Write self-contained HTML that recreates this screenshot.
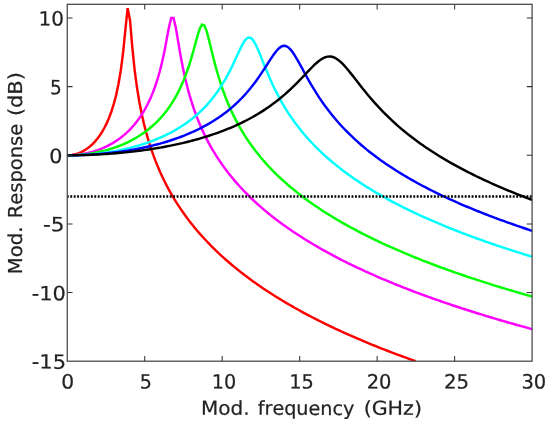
<!DOCTYPE html>
<html><head><meta charset="utf-8"><title>Mod. Response</title>
<style>
html,body{margin:0;padding:0;background:#fff;}
svg{display:block}
text{text-rendering:geometricPrecision;font-kerning:none;font-family:"DejaVu Sans","Liberation Sans",sans-serif;font-size:19.2px;fill:#222222;stroke:#222222;stroke-width:0.22px;}
.t{font-size:19.6px}
</style></head><body>
<svg width="550" height="424" viewBox="0 0 550 424">
<rect width="550" height="424" fill="#fff"/>

<clipPath id="c"><rect x="67.25" y="4.3" width="464.85" height="356.90"/></clipPath>
<g clip-path="url(#c)" fill="none" stroke-width="2.45" stroke-linejoin="miter" stroke-miterlimit="3" stroke-linecap="butt">
<polyline stroke="#ff0000" points="67.25,155.28 69.57,155.19 71.90,154.93 74.22,154.50 76.55,153.88 78.87,153.08 81.20,152.09 83.52,150.90 85.84,149.49 88.17,147.85 90.49,145.97 92.82,143.82 95.14,141.37 97.47,138.59 99.79,135.43 102.11,131.85 104.44,127.77 106.76,123.11 109.09,117.73 111.41,111.49 113.73,104.14 116.06,95.34 118.38,84.58 120.71,71.01 123.03,53.28 125.36,29.90 127.68,8.12 130.00,20.20 132.33,47.62 134.65,70.04 136.98,87.54 139.30,101.72 141.63,113.61 143.95,123.85 146.27,132.88 148.60,140.94 150.92,148.25 153.25,154.94 155.57,161.12 157.90,166.86 160.22,172.23 162.54,177.28 164.87,182.04 167.19,186.56 169.52,190.85 171.84,194.94 174.17,198.86 176.49,202.61 178.81,206.21 181.14,209.68 183.46,213.02 185.79,216.25 188.11,219.37 190.44,222.40 192.76,225.33 195.08,228.17 197.41,230.93 199.73,233.62 202.06,236.24 204.38,238.79 206.71,241.27 209.03,243.70 211.35,246.06 213.68,248.38 216.00,250.64 218.33,252.85 220.65,255.02 222.97,257.14 225.30,259.22 227.62,261.26 229.95,263.26 232.27,265.22 234.60,267.15 236.92,269.04 239.24,270.90 241.57,272.72 243.89,274.52 246.22,276.29 248.54,278.02 250.87,279.73 253.19,281.41 255.51,283.07 257.84,284.70 260.16,286.31 262.49,287.89 264.81,289.46 267.14,290.99 269.46,292.51 271.78,294.01 274.11,295.49 276.43,296.94 278.76,298.38 281.08,299.80 283.41,301.20 285.73,302.59 288.05,303.95 290.38,305.30 292.70,306.64 295.03,307.95 297.35,309.26 299.68,310.54 302.00,311.82 304.32,313.08 306.65,314.32 308.97,315.55 311.30,316.77 313.62,317.97 315.94,319.17 318.27,320.34 320.59,321.51 322.92,322.67 325.24,323.81 327.57,324.94 329.89,326.06 332.21,327.17 334.54,328.27 336.86,329.36 339.19,330.44 341.51,331.51 343.84,332.56 346.16,333.61 348.48,334.65 350.81,335.68 353.13,336.70 355.46,337.71 357.78,338.71 360.11,339.71 362.43,340.69 364.75,341.67 367.08,342.64 369.40,343.60 371.73,344.55 374.05,345.49 376.38,346.43 378.70,347.36 381.02,348.28 383.35,349.19 385.67,350.10 388.00,351.00 390.32,351.89 392.65,352.78 394.97,353.66 397.29,354.53 399.62,355.40 401.94,356.26 404.27,357.11 406.59,357.96 408.91,358.80 411.24,359.63 413.56,360.46 415.65,361.20"/>
<polyline stroke="#ff00ff" points="67.25,155.28 68.95,155.26 71.28,155.19 73.60,155.06 75.93,154.88 78.25,154.63 80.58,154.32 82.90,153.96 85.22,153.53 87.55,153.04 89.87,152.48 92.20,151.86 94.52,151.17 96.85,150.41 99.17,149.57 101.49,148.66 103.82,147.68 106.14,146.60 108.47,145.44 110.79,144.19 113.12,142.84 115.44,141.39 117.76,139.83 120.09,138.15 122.41,136.34 124.74,134.39 127.06,132.30 129.38,130.05 131.71,127.61 134.03,124.98 136.36,122.14 138.68,119.05 141.01,115.69 143.33,112.01 145.65,107.99 147.98,103.55 150.30,98.63 152.63,93.14 154.95,86.98 157.28,79.99 159.60,72.00 161.92,62.79 164.25,52.15 166.57,40.07 168.90,27.46 171.22,18.00 173.55,18.03 175.87,28.08 178.19,41.91 180.52,55.44 182.84,67.56 185.17,78.24 187.49,87.67 189.82,96.08 192.14,103.65 194.46,110.54 196.79,116.84 199.11,122.67 201.44,128.07 203.76,133.13 206.09,137.87 208.41,142.34 210.73,146.57 213.06,150.58 215.38,154.40 217.71,158.05 220.03,161.54 222.35,164.89 224.68,168.11 227.00,171.21 229.33,174.20 231.65,177.09 233.98,179.88 236.30,182.59 238.62,185.21 240.95,187.76 243.27,190.23 245.60,192.64 247.92,194.98 250.25,197.27 252.57,199.50 254.89,201.67 257.22,203.79 259.54,205.87 261.87,207.90 264.19,209.89 266.52,211.83 268.84,213.74 271.16,215.60 273.49,217.43 275.81,219.23 278.14,220.99 280.46,222.72 282.79,224.42 285.11,226.10 287.43,227.74 289.76,229.35 292.08,230.94 294.41,232.51 296.73,234.05 299.06,235.56 301.38,237.06 303.70,238.53 306.03,239.98 308.35,241.40 310.68,242.81 313.00,244.20 315.32,245.57 317.65,246.93 319.97,248.26 322.30,249.58 324.62,250.88 326.95,252.16 329.27,253.43 331.59,254.68 333.92,255.92 336.24,257.14 338.57,258.35 340.89,259.54 343.22,260.73 345.54,261.89 347.86,263.05 350.19,264.19 352.51,265.32 354.84,266.44 357.16,267.55 359.49,268.64 361.81,269.72 364.13,270.80 366.46,271.86 368.78,272.91 371.11,273.95 373.43,274.98 375.76,276.00 378.08,277.01 380.40,278.02 382.73,279.01 385.05,279.99 387.38,280.97 389.70,281.93 392.03,282.89 394.35,283.84 396.67,284.78 399.00,285.71 401.32,286.64 403.65,287.55 405.97,288.46 408.29,289.36 410.62,290.26 412.94,291.15 415.27,292.03 417.59,292.90 419.92,293.76 422.24,294.62 424.56,295.48 426.89,296.32 429.21,297.16 431.54,297.99 433.86,298.82 436.19,299.64 438.51,300.45 440.83,301.26 443.16,302.07 445.48,302.86 447.81,303.65 450.13,304.44 452.46,305.22 454.78,305.99 457.10,306.76 459.43,307.53 461.75,308.29 464.08,309.04 466.40,309.79 468.73,310.53 471.05,311.27 473.37,312.00 475.70,312.73 478.02,313.46 480.35,314.18 482.67,314.89 485.00,315.60 487.32,316.31 489.64,317.01 491.97,317.71 494.29,318.40 496.62,319.09 498.94,319.77 501.26,320.45 503.59,321.13 505.91,321.80 508.24,322.47 510.56,323.14 512.89,323.80 515.21,324.45 517.53,325.11 519.86,325.75 522.18,326.40 524.51,327.04 526.83,327.68 529.16,328.31 532.10,329.11"/>
<polyline stroke="#00ff00" points="67.25,155.28 69.57,155.26 71.90,155.21 74.22,155.12 76.55,155.00 78.87,154.85 81.20,154.65 83.52,154.43 85.84,154.16 88.17,153.86 90.49,153.52 92.82,153.15 95.14,152.74 97.47,152.28 99.79,151.79 102.11,151.26 104.44,150.68 106.76,150.06 109.09,149.40 111.41,148.69 113.73,147.93 116.06,147.12 118.38,146.26 120.71,145.35 123.03,144.39 125.36,143.36 127.68,142.28 130.00,141.13 132.33,139.92 134.65,138.63 136.98,137.28 139.30,135.84 141.63,134.32 143.95,132.71 146.27,131.00 148.60,129.20 150.92,127.28 153.25,125.25 155.57,123.09 157.90,120.79 160.22,118.33 162.54,115.72 164.87,112.91 167.19,109.91 169.52,106.68 171.84,103.20 174.17,99.43 176.49,95.34 178.81,90.89 181.14,86.02 183.46,80.67 185.79,74.78 188.11,68.27 190.44,61.08 192.76,53.19 195.08,44.74 197.41,36.20 199.73,28.79 202.06,24.59 204.38,25.52 206.71,31.38 209.03,40.09 211.35,49.69 213.68,59.10 216.00,67.90 218.33,76.01 220.65,83.45 222.97,90.28 225.30,96.58 227.62,102.41 229.95,107.83 232.27,112.89 234.60,117.65 236.92,122.12 239.24,126.36 241.57,130.37 243.89,134.18 246.22,137.82 248.54,141.30 250.87,144.62 253.19,147.82 255.51,150.89 257.84,153.85 260.16,156.71 262.49,159.47 264.81,162.13 267.14,164.72 269.46,167.23 271.78,169.66 274.11,172.02 276.43,174.32 278.76,176.56 281.08,178.75 283.41,180.88 285.73,182.95 288.05,184.98 290.38,186.97 292.70,188.91 295.03,190.80 297.35,192.66 299.68,194.48 302.00,196.26 304.32,198.01 306.65,199.73 308.97,201.41 311.30,203.07 313.62,204.69 315.94,206.29 318.27,207.85 320.59,209.40 322.92,210.91 325.24,212.41 327.57,213.88 329.89,215.33 332.21,216.75 334.54,218.15 336.86,219.54 339.19,220.90 341.51,222.25 343.84,223.57 346.16,224.88 348.48,226.17 350.81,227.45 353.13,228.70 355.46,229.95 357.78,231.17 360.11,232.38 362.43,233.58 364.75,234.76 367.08,235.93 369.40,237.08 371.73,238.22 374.05,239.35 376.38,240.47 378.70,241.57 381.02,242.66 383.35,243.74 385.67,244.81 388.00,245.87 390.32,246.91 392.65,247.95 394.97,248.97 397.29,249.99 399.62,250.99 401.94,251.99 404.27,252.97 406.59,253.95 408.91,254.92 411.24,255.87 413.56,256.82 415.89,257.76 418.21,258.69 420.54,259.62 422.86,260.53 425.18,261.44 427.51,262.34 429.83,263.23 432.16,264.12 434.48,265.00 436.81,265.87 439.13,266.73 441.45,267.58 443.78,268.43 446.10,269.27 448.43,270.11 450.75,270.94 453.08,271.76 455.40,272.58 457.72,273.39 460.05,274.19 462.37,274.99 464.70,275.78 467.02,276.57 469.35,277.35 471.67,278.12 473.99,278.89 476.32,279.66 478.64,280.41 480.97,281.17 483.29,281.91 485.62,282.66 487.94,283.39 490.26,284.13 492.59,284.85 494.91,285.58 497.24,286.30 499.56,287.01 501.88,287.72 504.21,288.42 506.53,289.12 508.86,289.82 511.18,290.51 513.51,291.19 515.83,291.87 518.15,292.55 520.48,293.23 522.80,293.90 525.13,294.56 527.45,295.22 529.78,295.88 532.10,296.53"/>
<polyline stroke="#00ffff" points="67.25,155.28 69.57,155.27 71.90,155.24 74.22,155.19 76.55,155.13 78.87,155.04 81.20,154.94 83.52,154.81 85.84,154.67 88.17,154.50 90.49,154.32 92.82,154.11 95.14,153.89 97.47,153.64 99.79,153.38 102.11,153.09 104.44,152.79 106.76,152.46 109.09,152.11 111.41,151.73 113.73,151.34 116.06,150.92 118.38,150.47 120.71,150.01 123.03,149.52 125.36,149.00 127.68,148.46 130.00,147.89 132.33,147.29 134.65,146.67 136.98,146.02 139.30,145.34 141.63,144.63 143.95,143.88 146.27,143.11 148.60,142.30 150.92,141.45 153.25,140.57 155.57,139.66 157.90,138.70 160.22,137.70 162.54,136.66 164.87,135.58 167.19,134.45 169.52,133.28 171.84,132.05 174.17,130.77 176.49,129.43 178.81,128.04 181.14,126.58 183.46,125.05 185.79,123.46 188.11,121.79 190.44,120.05 192.76,118.22 195.08,116.30 197.41,114.29 199.73,112.17 202.06,109.95 204.38,107.60 206.71,105.13 209.03,102.52 211.35,99.75 213.68,96.83 216.00,93.73 218.33,90.44 220.65,86.95 222.97,83.23 225.30,79.28 227.62,75.08 229.95,70.63 232.27,65.94 234.60,61.04 236.92,56.00 239.24,50.97 241.57,46.18 243.89,42.02 246.22,38.95 248.54,37.49 250.87,37.96 253.19,40.33 255.51,44.27 257.84,49.27 260.16,54.84 262.49,60.64 264.81,66.44 267.14,72.08 269.46,77.52 271.78,82.71 274.11,87.65 276.43,92.34 278.76,96.80 281.08,101.04 283.41,105.08 285.73,108.93 288.05,112.60 290.38,116.12 292.70,119.49 295.03,122.72 297.35,125.82 299.68,128.81 302.00,131.69 304.32,134.48 306.65,137.16 308.97,139.76 311.30,142.28 313.62,144.72 315.94,147.09 318.27,149.40 320.59,151.64 322.92,153.82 325.24,155.94 327.57,158.01 329.89,160.03 332.21,162.00 334.54,163.93 336.86,165.81 339.19,167.65 341.51,169.45 343.84,171.22 346.16,172.95 348.48,174.64 350.81,176.30 353.13,177.93 355.46,179.53 357.78,181.10 360.11,182.64 362.43,184.16 364.75,185.65 367.08,187.12 369.40,188.56 371.73,189.97 374.05,191.37 376.38,192.75 378.70,194.10 381.02,195.43 383.35,196.75 385.67,198.04 388.00,199.32 390.32,200.58 392.65,201.82 394.97,203.05 397.29,204.26 399.62,205.45 401.94,206.63 404.27,207.79 406.59,208.94 408.91,210.08 411.24,211.20 413.56,212.31 415.89,213.40 418.21,214.49 420.54,215.56 422.86,216.62 425.18,217.66 427.51,218.70 429.83,219.72 432.16,220.74 434.48,221.74 436.81,222.73 439.13,223.72 441.45,224.69 443.78,225.65 446.10,226.61 448.43,227.55 450.75,228.49 453.08,229.41 455.40,230.33 457.72,231.24 460.05,232.14 462.37,233.03 464.70,233.92 467.02,234.80 469.35,235.67 471.67,236.53 473.99,237.38 476.32,238.23 478.64,239.07 480.97,239.90 483.29,240.73 485.62,241.55 487.94,242.36 490.26,243.17 492.59,243.97 494.91,244.76 497.24,245.55 499.56,246.33 501.88,247.10 504.21,247.87 506.53,248.64 508.86,249.39 511.18,250.15 513.51,250.89 515.83,251.64 518.15,252.37 520.48,253.10 522.80,253.83 525.13,254.55 527.45,255.26 529.78,255.98 532.10,256.68"/>
<polyline stroke="#0000ff" points="67.25,155.28 69.57,155.27 71.90,155.25 74.22,155.22 76.55,155.17 78.87,155.11 81.20,155.04 83.52,154.95 85.84,154.85 88.17,154.74 90.49,154.61 92.82,154.47 95.14,154.31 97.47,154.14 99.79,153.96 102.11,153.76 104.44,153.55 106.76,153.32 109.09,153.08 111.41,152.82 113.73,152.55 116.06,152.27 118.38,151.96 120.71,151.65 123.03,151.31 125.36,150.96 127.68,150.60 130.00,150.21 132.33,149.81 134.65,149.40 136.98,148.96 139.30,148.51 141.63,148.04 143.95,147.55 146.27,147.04 148.60,146.51 150.92,145.96 153.25,145.39 155.57,144.80 157.90,144.19 160.22,143.56 162.54,142.90 164.87,142.22 167.19,141.51 169.52,140.79 171.84,140.03 174.17,139.25 176.49,138.44 178.81,137.60 181.14,136.73 183.46,135.84 185.79,134.91 188.11,133.95 190.44,132.95 192.76,131.92 195.08,130.85 197.41,129.74 199.73,128.60 202.06,127.41 204.38,126.18 206.71,124.90 209.03,123.57 211.35,122.20 213.68,120.77 216.00,119.28 218.33,117.74 220.65,116.14 222.97,114.47 225.30,112.73 227.62,110.92 229.95,109.03 232.27,107.06 234.60,105.01 236.92,102.86 239.24,100.61 241.57,98.27 243.89,95.81 246.22,93.24 248.54,90.55 250.87,87.74 253.19,84.79 255.51,81.71 257.84,78.50 260.16,75.16 262.49,71.69 264.81,68.13 267.14,64.51 269.46,60.88 271.78,57.32 274.11,53.95 276.43,50.93 278.76,48.44 281.08,46.68 283.41,45.83 285.73,46.01 288.05,47.22 290.38,49.39 292.70,52.34 295.03,55.87 297.35,59.80 299.68,63.96 302.00,68.21 304.32,72.48 306.65,76.70 308.97,80.83 311.30,84.84 313.62,88.73 315.94,92.48 318.27,96.11 320.59,99.60 322.92,102.96 325.24,106.20 327.57,109.33 329.89,112.35 332.21,115.26 334.54,118.08 336.86,120.80 339.19,123.44 341.51,125.99 343.84,128.47 346.16,130.88 348.48,133.21 350.81,135.49 353.13,137.70 355.46,139.85 357.78,141.95 360.11,143.99 362.43,145.98 364.75,147.93 367.08,149.83 369.40,151.69 371.73,153.51 374.05,155.29 376.38,157.03 378.70,158.74 381.02,160.41 383.35,162.05 385.67,163.66 388.00,165.24 390.32,166.79 392.65,168.31 394.97,169.80 397.29,171.27 399.62,172.72 401.94,174.14 404.27,175.54 406.59,176.91 408.91,178.26 411.24,179.60 413.56,180.91 415.89,182.20 418.21,183.48 420.54,184.73 422.86,185.97 425.18,187.19 427.51,188.40 429.83,189.59 432.16,190.76 434.48,191.92 436.81,193.06 439.13,194.19 441.45,195.31 443.78,196.41 446.10,197.50 448.43,198.57 450.75,199.63 453.08,200.68 455.40,201.72 457.72,202.75 460.05,203.77 462.37,204.77 464.70,205.76 467.02,206.75 469.35,207.72 471.67,208.68 473.99,209.64 476.32,210.58 478.64,211.51 480.97,212.44 483.29,213.36 485.62,214.26 487.94,215.16 490.26,216.05 492.59,216.93 494.91,217.81 497.24,218.67 499.56,219.53 501.88,220.38 504.21,221.22 506.53,222.06 508.86,222.89 511.18,223.71 513.51,224.52 515.83,225.33 518.15,226.13 520.48,226.93 522.80,227.72 525.13,228.50 527.45,229.27 529.78,230.04 532.10,230.81"/>
<polyline stroke="#000000" points="67.25,155.28 69.57,155.28 71.90,155.26 74.22,155.24 76.55,155.21 78.87,155.17 81.20,155.12 83.52,155.06 85.84,154.99 88.17,154.91 90.49,154.83 92.82,154.73 95.14,154.63 97.47,154.51 99.79,154.39 102.11,154.26 104.44,154.11 106.76,153.96 109.09,153.80 111.41,153.63 113.73,153.45 116.06,153.26 118.38,153.06 120.71,152.84 123.03,152.62 125.36,152.39 127.68,152.15 130.00,151.90 132.33,151.63 134.65,151.36 136.98,151.08 139.30,150.78 141.63,150.47 143.95,150.16 146.27,149.83 148.60,149.49 150.92,149.13 153.25,148.77 155.57,148.39 157.90,148.00 160.22,147.60 162.54,147.18 164.87,146.76 167.19,146.31 169.52,145.86 171.84,145.39 174.17,144.91 176.49,144.41 178.81,143.90 181.14,143.37 183.46,142.83 185.79,142.27 188.11,141.69 190.44,141.10 192.76,140.49 195.08,139.87 197.41,139.22 199.73,138.56 202.06,137.88 204.38,137.18 206.71,136.46 209.03,135.72 211.35,134.95 213.68,134.17 216.00,133.36 218.33,132.53 220.65,131.68 222.97,130.80 225.30,129.90 227.62,128.97 229.95,128.02 232.27,127.03 234.60,126.02 236.92,124.97 239.24,123.90 241.57,122.79 243.89,121.65 246.22,120.48 248.54,119.26 250.87,118.01 253.19,116.72 255.51,115.40 257.84,114.02 260.16,112.61 262.49,111.15 264.81,109.64 267.14,108.08 269.46,106.47 271.78,104.80 274.11,103.08 276.43,101.31 278.76,99.47 281.08,97.57 283.41,95.62 285.73,93.59 288.05,91.51 290.38,89.36 292.70,87.14 295.03,84.87 297.35,82.54 299.68,80.16 302.00,77.74 304.32,75.29 306.65,72.83 308.97,70.38 311.30,67.98 313.62,65.66 315.94,63.47 318.27,61.47 320.59,59.71 322.92,58.27 325.24,57.21 327.57,56.59 329.89,56.44 332.21,56.79 334.54,57.63 336.86,58.94 339.19,60.67 341.51,62.75 343.84,65.12 346.16,67.73 348.48,70.49 350.81,73.37 353.13,76.32 355.46,79.30 357.78,82.28 360.11,85.25 362.43,88.18 364.75,91.08 367.08,93.91 369.40,96.69 371.73,99.41 374.05,102.07 376.38,104.66 378.70,107.19 381.02,109.66 383.35,112.06 385.67,114.41 388.00,116.69 390.32,118.93 392.65,121.10 394.97,123.23 397.29,125.30 399.62,127.33 401.94,129.31 404.27,131.24 406.59,133.14 408.91,134.99 411.24,136.80 413.56,138.57 415.89,140.31 418.21,142.01 420.54,143.68 422.86,145.32 425.18,146.92 427.51,148.50 429.83,150.05 432.16,151.56 434.48,153.06 436.81,154.52 439.13,155.96 441.45,157.38 443.78,158.78 446.10,160.15 448.43,161.50 450.75,162.83 453.08,164.13 455.40,165.42 457.72,166.69 460.05,167.94 462.37,169.18 464.70,170.39 467.02,171.59 469.35,172.77 471.67,173.94 473.99,175.09 476.32,176.23 478.64,177.35 480.97,178.46 483.29,179.55 485.62,180.63 487.94,181.70 490.26,182.76 492.59,183.80 494.91,184.83 497.24,185.85 499.56,186.85 501.88,187.85 504.21,188.83 506.53,189.81 508.86,190.77 511.18,191.73 513.51,192.67 515.83,193.60 518.15,194.53 520.48,195.44 522.80,196.35 525.13,197.24 527.45,198.13 529.78,199.01 532.10,199.88"/>
<line x1="66.85" x2="532.1" y1="196.46" y2="196.46" stroke="#000" stroke-width="2.4" stroke-dasharray="1.9 1.53"/>
</g>
<rect x="67.25" y="4.3" width="464.85" height="356.90" fill="none" stroke="#464646" stroke-width="1.25"/>
<path d="M144.73 361.2v-5.3M144.73 4.3v5.3M222.20 361.2v-5.3M222.20 4.3v5.3M299.68 361.2v-5.3M299.68 4.3v5.3M377.15 361.2v-5.3M377.15 4.3v5.3M454.62 361.2v-5.3M454.62 4.3v5.3M67.25 292.56h5.3M532.1 292.56h-5.3M67.25 223.92h5.3M532.1 223.92h-5.3M67.25 155.28h5.3M532.1 155.28h-5.3M67.25 86.64h5.3M532.1 86.64h-5.3M67.25 18.00h5.3M532.1 18.00h-5.3" stroke="#333" stroke-width="1.05" fill="none"/>
<text class="t" transform="translate(38.61 25.39) rotate(0.15) scale(1.017 1)">10</text>
<text class="t" transform="translate(49.88 94.24) rotate(0.15) scale(0.941 1)">5</text>
<text class="t" transform="translate(49.14 162.89) rotate(0.15) scale(1.053 1)">0</text>
<text class="t" transform="translate(43.04 231.34) rotate(0.15) scale(1.102 1)">-5</text>
<text class="t" transform="translate(31.78 300.14) rotate(0.15) scale(1.065 1)">-10</text>
<text class="t" transform="translate(31.78 368.59) rotate(0.15) scale(1.070 1)">-15</text>
<text class="t" transform="translate(61.37 388.44) rotate(0.15) scale(1.033 1)">0</text>
<text class="t" transform="translate(139.83 388.44) rotate(0.15) scale(0.974 1)">5</text>
<text class="t" transform="translate(211.80 388.44) rotate(0.15) scale(0.977 1)">10</text>
<text class="t" transform="translate(289.17 388.44) rotate(0.15) scale(0.987 1)">15</text>
<text class="t" transform="translate(366.68 388.44) rotate(0.15) scale(0.991 1)">20</text>
<text class="t" transform="translate(443.96 388.44) rotate(0.15) scale(1.005 1)">25</text>
<text class="t" transform="translate(521.42 388.44) rotate(0.15) scale(0.993 1)">30</text>
<text transform="translate(201.04 414.75) rotate(0.15) scale(1.041 1)">Mod.</text>
<text transform="translate(257.76 414.75) rotate(0.15) scale(0.999 1)">frequency</text>
<text transform="translate(363.63 414.75) rotate(0.15) scale(1.073 1)">(GHz)</text>
<text transform="translate(21.9 274.23) rotate(-89.85) scale(1.025 1)">Mod.</text>
<text transform="translate(21.9 218.21) rotate(-89.85) scale(1.015 1)">Response</text>
<text transform="translate(21.9 116.10) rotate(-89.85) scale(1.092 1)">(dB)</text>
</svg></body></html>
